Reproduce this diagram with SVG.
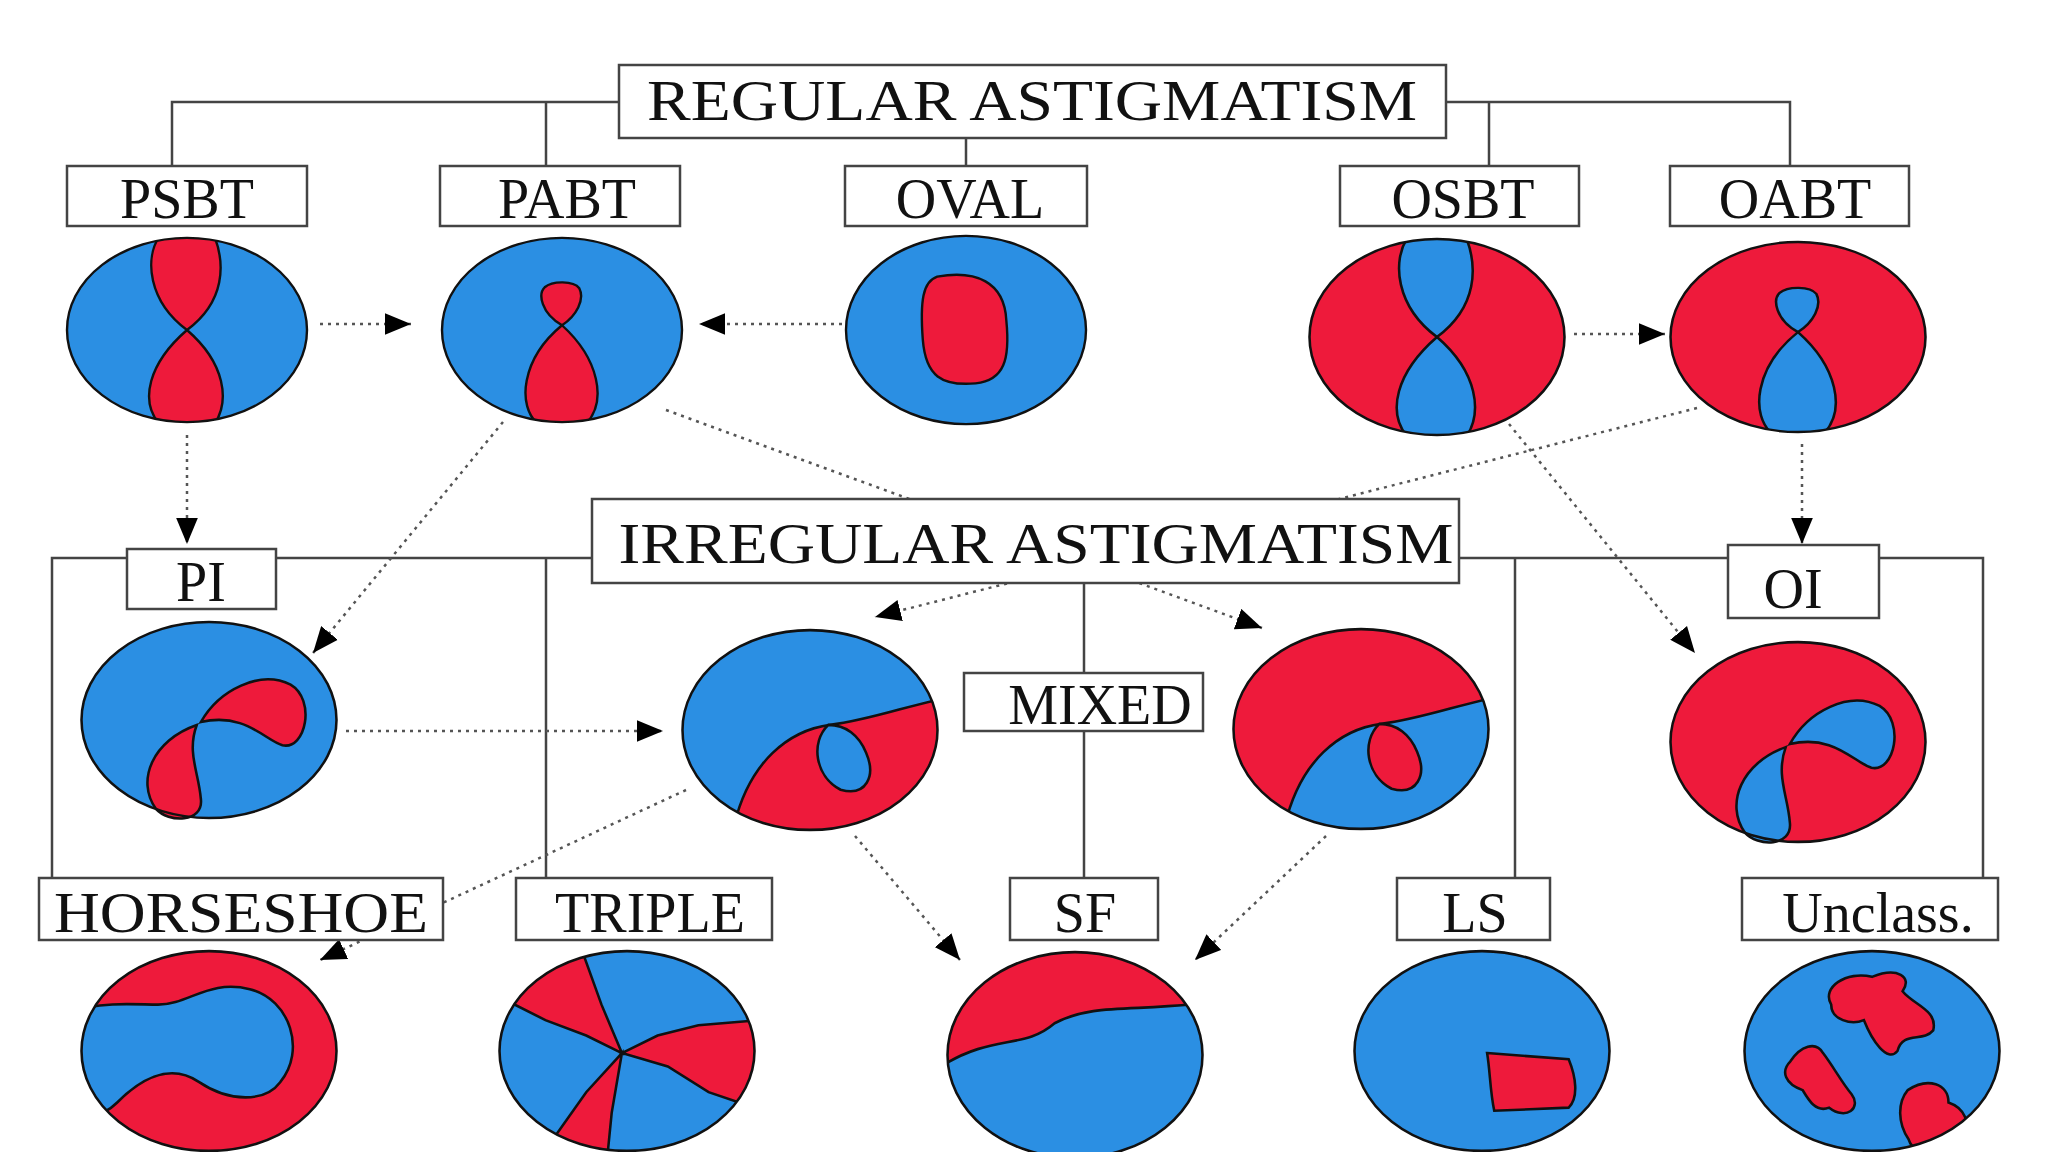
<svg xmlns="http://www.w3.org/2000/svg" width="2048" height="1152" viewBox="0 0 2048 1152">
<style>
.bx{fill:#fff;stroke:#444;stroke-width:2.5}
.ln{fill:none;stroke:#444;stroke-width:2.5}
.dt{fill:none;stroke:#555;stroke-width:2.5;stroke-dasharray:3 5}
.t{font-family:"Liberation Serif",serif;font-size:56px;fill:#111;text-anchor:middle}
.b{fill:#2b8fe3}
.r{fill:#ee1a3b}
.s{stroke:#111;stroke-width:2.5}
.o{fill:none;stroke:#111;stroke-width:2.5}
</style>
<defs>
<clipPath id="c"><ellipse cx="0" cy="0" rx="125" ry="97"/></clipPath>
<marker id="A" viewBox="0 0 12 10" refX="12" refY="5" markerWidth="26" markerHeight="22" markerUnits="userSpaceOnUse" orient="auto"><path d="M0,0 L12,5 L0,10 Z" fill="#000"/></marker>
</defs>

<g id="connectors">
<path class="ln" d="M172,166 V102 H619 M546,102 V166 M1446,102 H1790 V166 M1489,102 V166 M966,138 V166"/>
<path class="ln" d="M52,878 V558 H1983 V878 M546,558 V878 M1084,558 V673 M1084,731 V878 M1515,558 V878"/>
<path class="dt" marker-end="url(#A)" d="M320,324 H411"/>
<path class="dt" marker-end="url(#A)" d="M842,324 H699"/>
<path class="dt" marker-end="url(#A)" d="M1574,334 H1665"/>
<path class="dt" marker-end="url(#A)" d="M187,435 V544"/>
<path class="dt" marker-end="url(#A)" d="M1802,444 V544"/>
<path class="dt" marker-end="url(#A)" d="M503,422 L313,653"/>
<path class="dt" marker-end="url(#A)" d="M1509,424 L1695,653"/>
<path class="dt" marker-end="url(#A)" d="M666,410 L1262,628"/>
<path class="dt" marker-end="url(#A)" d="M1697,408 L875,617"/>
<path class="dt" marker-end="url(#A)" d="M346,731 H663"/>
<path class="dt" marker-end="url(#A)" d="M686,790 L320,960"/>
<path class="dt" marker-end="url(#A)" d="M855,836 L960,960"/>
<path class="dt" marker-end="url(#A)" d="M1326,836 L1195,960"/>
</g>

<g id="regular"><rect class="bx" x="619" y="65" width="827" height="73"/><text class="t" x="1032" y="120" textLength="770" lengthAdjust="spacingAndGlyphs">REGULAR ASTIGMATISM</text></g>
<g id="irregular"><rect class="bx" x="592" y="499" width="867" height="84"/><text class="t" x="1036" y="563" textLength="835" lengthAdjust="spacingAndGlyphs">IRREGULAR ASTIGMATISM</text></g>

<g id="psbt"><rect class="bx" x="67" y="166" width="240" height="60"/><text class="t" x="187" y="218">PSBT</text>
<g transform="translate(187,330) scale(0.96,0.95)"><ellipse class="b" rx="125" ry="97"/><g clip-path="url(#c)"><path class="r s" d="M0,0 C-40,-30 -45,-75 -28,-100 L28,-100 C40,-70 40,-30 0,0 Z M0,0 C-40,35 -50,75 -28,100 L28,100 C45,75 40,35 0,0Z"/></g><ellipse class="o" rx="125" ry="97"/></g></g>

<g id="pabt"><rect class="bx" x="440" y="166" width="240" height="60"/><text class="t" x="567" y="218">PABT</text>
<g transform="translate(562,330) scale(0.96,0.95)"><ellipse class="b" rx="125" ry="97"/><g clip-path="url(#c)"><path class="r s" d="M0,-5 C-22,-18 -25,-38 -18,-45 C-10,-52 12,-52 18,-44 C24,-32 15,-15 0,-5Z M0,-5 C-42,30 -48,80 -24,100 L24,100 C48,75 38,30 0,-5Z"/></g><ellipse class="o" rx="125" ry="97"/></g></g>

<g id="oval"><rect class="bx" x="845" y="166" width="242" height="60"/><text class="t" x="970" y="218">OVAL</text>
<g transform="translate(966,330) scale(0.96,0.97)"><ellipse class="b" rx="125" ry="97"/><path class="r s" d="M-30,-55 C10,-62 40,-50 42,-10 C46,30 40,52 10,55 C-25,58 -42,48 -45,10 C-48,-30 -45,-50 -30,-55Z"/><ellipse class="o" rx="125" ry="97"/></g></g>

<g id="osbt"><rect class="bx" x="1340" y="166" width="239" height="60"/><text class="t" x="1463" y="218">OSBT</text>
<g transform="translate(1437,337) scale(1.02,1.01)"><ellipse class="r" rx="125" ry="97"/><g clip-path="url(#c)"><path class="b s" d="M0,0 C-40,-30 -45,-75 -28,-100 L28,-100 C40,-70 40,-30 0,0 Z M0,0 C-40,35 -50,75 -28,100 L28,100 C45,75 40,35 0,0Z"/></g><ellipse class="o" rx="125" ry="97"/></g></g>

<g id="oabt"><rect class="bx" x="1670" y="166" width="239" height="60"/><text class="t" x="1795" y="218">OABT</text>
<g transform="translate(1798,337) scale(1.02,0.98)"><ellipse class="r" rx="125" ry="97"/><g clip-path="url(#c)"><path class="b s" d="M0,-5 C-22,-18 -25,-38 -18,-45 C-10,-52 12,-52 18,-44 C24,-32 15,-15 0,-5Z M0,-5 C-42,30 -48,80 -24,100 L24,100 C48,75 38,30 0,-5Z"/></g><ellipse class="o" rx="125" ry="97"/></g></g>

<g id="pi"><rect class="bx" x="127" y="549" width="149" height="60"/><text class="t" x="201" y="601">PI</text>
<g transform="translate(209,720) scale(1.02,1.01)"><ellipse class="b" rx="125" ry="97"/><path class="r s" d="M-8,2 C10,-30 50,-50 80,-35 C105,-20 95,30 72,25 C55,20 35,-8 -8,2Z M-12,5 C-55,20 -72,60 -52,88 C-40,102 -5,102 -8,78 C-10,52 -22,32 -12,5Z"/><ellipse class="o" rx="125" ry="97"/></g></g>

<g id="oi"><rect class="bx" x="1728" y="545" width="151" height="73"/><text class="t" x="1793" y="608">OI</text>
<g transform="translate(1798,742) scale(1.02,1.03)"><ellipse class="r" rx="125" ry="97"/><path class="b s" d="M-8,2 C10,-30 50,-50 80,-35 C105,-20 95,30 72,25 C55,20 35,-8 -8,2Z M-12,5 C-55,20 -72,60 -52,88 C-40,102 -5,102 -8,78 C-10,52 -22,32 -12,5Z"/><ellipse class="o" rx="125" ry="97"/></g></g>

<g id="mixed-blue"><g transform="translate(810,730) scale(1.02,1.03)"><ellipse class="b" rx="125" ry="97"/><g clip-path="url(#c)"><path class="r s" d="M-75,95 C-60,30 -20,0 20,-5 C60,-10 100,-25 130,-30 L130,120 L-75,120Z"/></g><path class="b s" d="M18,-5 C0,12 5,45 30,58 C55,65 65,45 55,22 C48,5 35,-5 18,-5Z"/><ellipse class="o" rx="125" ry="97"/></g></g>

<g id="mixed"><rect class="bx" x="964" y="673" width="239" height="58"/><text class="t" x="1100" y="724">MIXED</text></g>

<g id="mixed-red"><g transform="translate(1361,729) scale(1.02,1.03)"><ellipse class="r" rx="125" ry="97"/><g clip-path="url(#c)"><path class="b s" d="M-75,95 C-60,30 -20,0 20,-5 C60,-10 100,-25 130,-30 L130,120 L-75,120Z"/></g><path class="r s" d="M18,-5 C0,12 5,45 30,58 C55,65 65,45 55,22 C48,5 35,-5 18,-5Z"/><ellipse class="o" rx="125" ry="97"/></g></g>

<g id="horseshoe"><rect class="bx" x="39" y="878" width="404" height="62"/><text class="t" x="241" y="932" textLength="374" lengthAdjust="spacingAndGlyphs">HORSESHOE</text>
<g transform="translate(209,1051) scale(1.02,1.03)"><ellipse class="r" rx="125" ry="97"/><g clip-path="url(#c)"><path class="b s" d="M-130,-40 C-100,-48 -70,-45 -50,-45 C-20,-45 0,-70 40,-60 C80,-50 95,0 70,30 C55,50 20,50 -10,30 C-40,10 -70,30 -90,50 C-110,70 -130,60 -130,60Z"/></g><ellipse class="o" rx="125" ry="97"/></g></g>

<g id="triple"><rect class="bx" x="516" y="878" width="256" height="62"/><text class="t" x="650" y="932">TRIPLE</text>
<g transform="translate(627,1051) scale(1.02,1.03)"><ellipse class="b" rx="125" ry="97"/><g clip-path="url(#c)"><path class="r s" d="M-5,2 L-25,-45 L-45,-100 L-140,-60 L-80,-30 L-40,-15 Z M-5,2 L30,-15 L70,-25 L130,-30 L140,60 L80,40 L40,15 Z M-5,2 L-40,40 L-90,110 L-20,110 L-15,60 Z"/></g><ellipse class="o" rx="125" ry="97"/></g></g>

<g id="sf"><rect class="bx" x="1010" y="878" width="148" height="62"/><text class="t" x="1085" y="932">SF</text>
<g transform="translate(1075,1055) scale(1.02,1.06)"><ellipse class="r" rx="125" ry="97"/><g clip-path="url(#c)"><path class="b s" d="M-130,10 C-80,-20 -50,-5 -20,-30 C20,-50 60,-40 135,-50 L135,120 L-130,120Z"/></g><ellipse class="o" rx="125" ry="97"/></g></g>

<g id="ls"><rect class="bx" x="1397" y="878" width="153" height="62"/><text class="t" x="1475" y="932">LS</text>
<g transform="translate(1482,1051) scale(1.02,1.03)"><ellipse class="b" rx="125" ry="97"/><path class="r s" d="M5,2 L85,8 C92,25 95,45 85,55 L12,58 C8,40 8,20 5,2Z"/><ellipse class="o" rx="125" ry="97"/></g></g>

<g id="unclass"><rect class="bx" x="1742" y="878" width="256" height="62"/><text class="t" x="1878" y="932">Unclass.</text>
<g transform="translate(1872,1051) scale(1.02,1.03)"><ellipse class="b" rx="125" ry="97"/><g clip-path="url(#c)"><path class="r s" d="M-40,-45 C-50,-62 -25,-78 0,-72 C25,-82 40,-72 30,-58 C40,-45 65,-40 60,-20 C50,-8 30,-20 25,0 C15,12 0,-10 -8,-30 C-20,-25 -40,-30 -40,-45Z M-80,10 C-70,-5 -55,-10 -48,2 C-38,15 -30,30 -20,42 C-10,55 -25,68 -42,55 C-55,60 -62,48 -68,38 C-85,32 -90,20 -80,10Z M35,38 C55,25 75,32 75,50 C90,55 100,72 85,82 C72,100 42,105 36,86 C25,70 25,50 35,38Z"/></g><ellipse class="o" rx="125" ry="97"/></g></g>
</svg>
